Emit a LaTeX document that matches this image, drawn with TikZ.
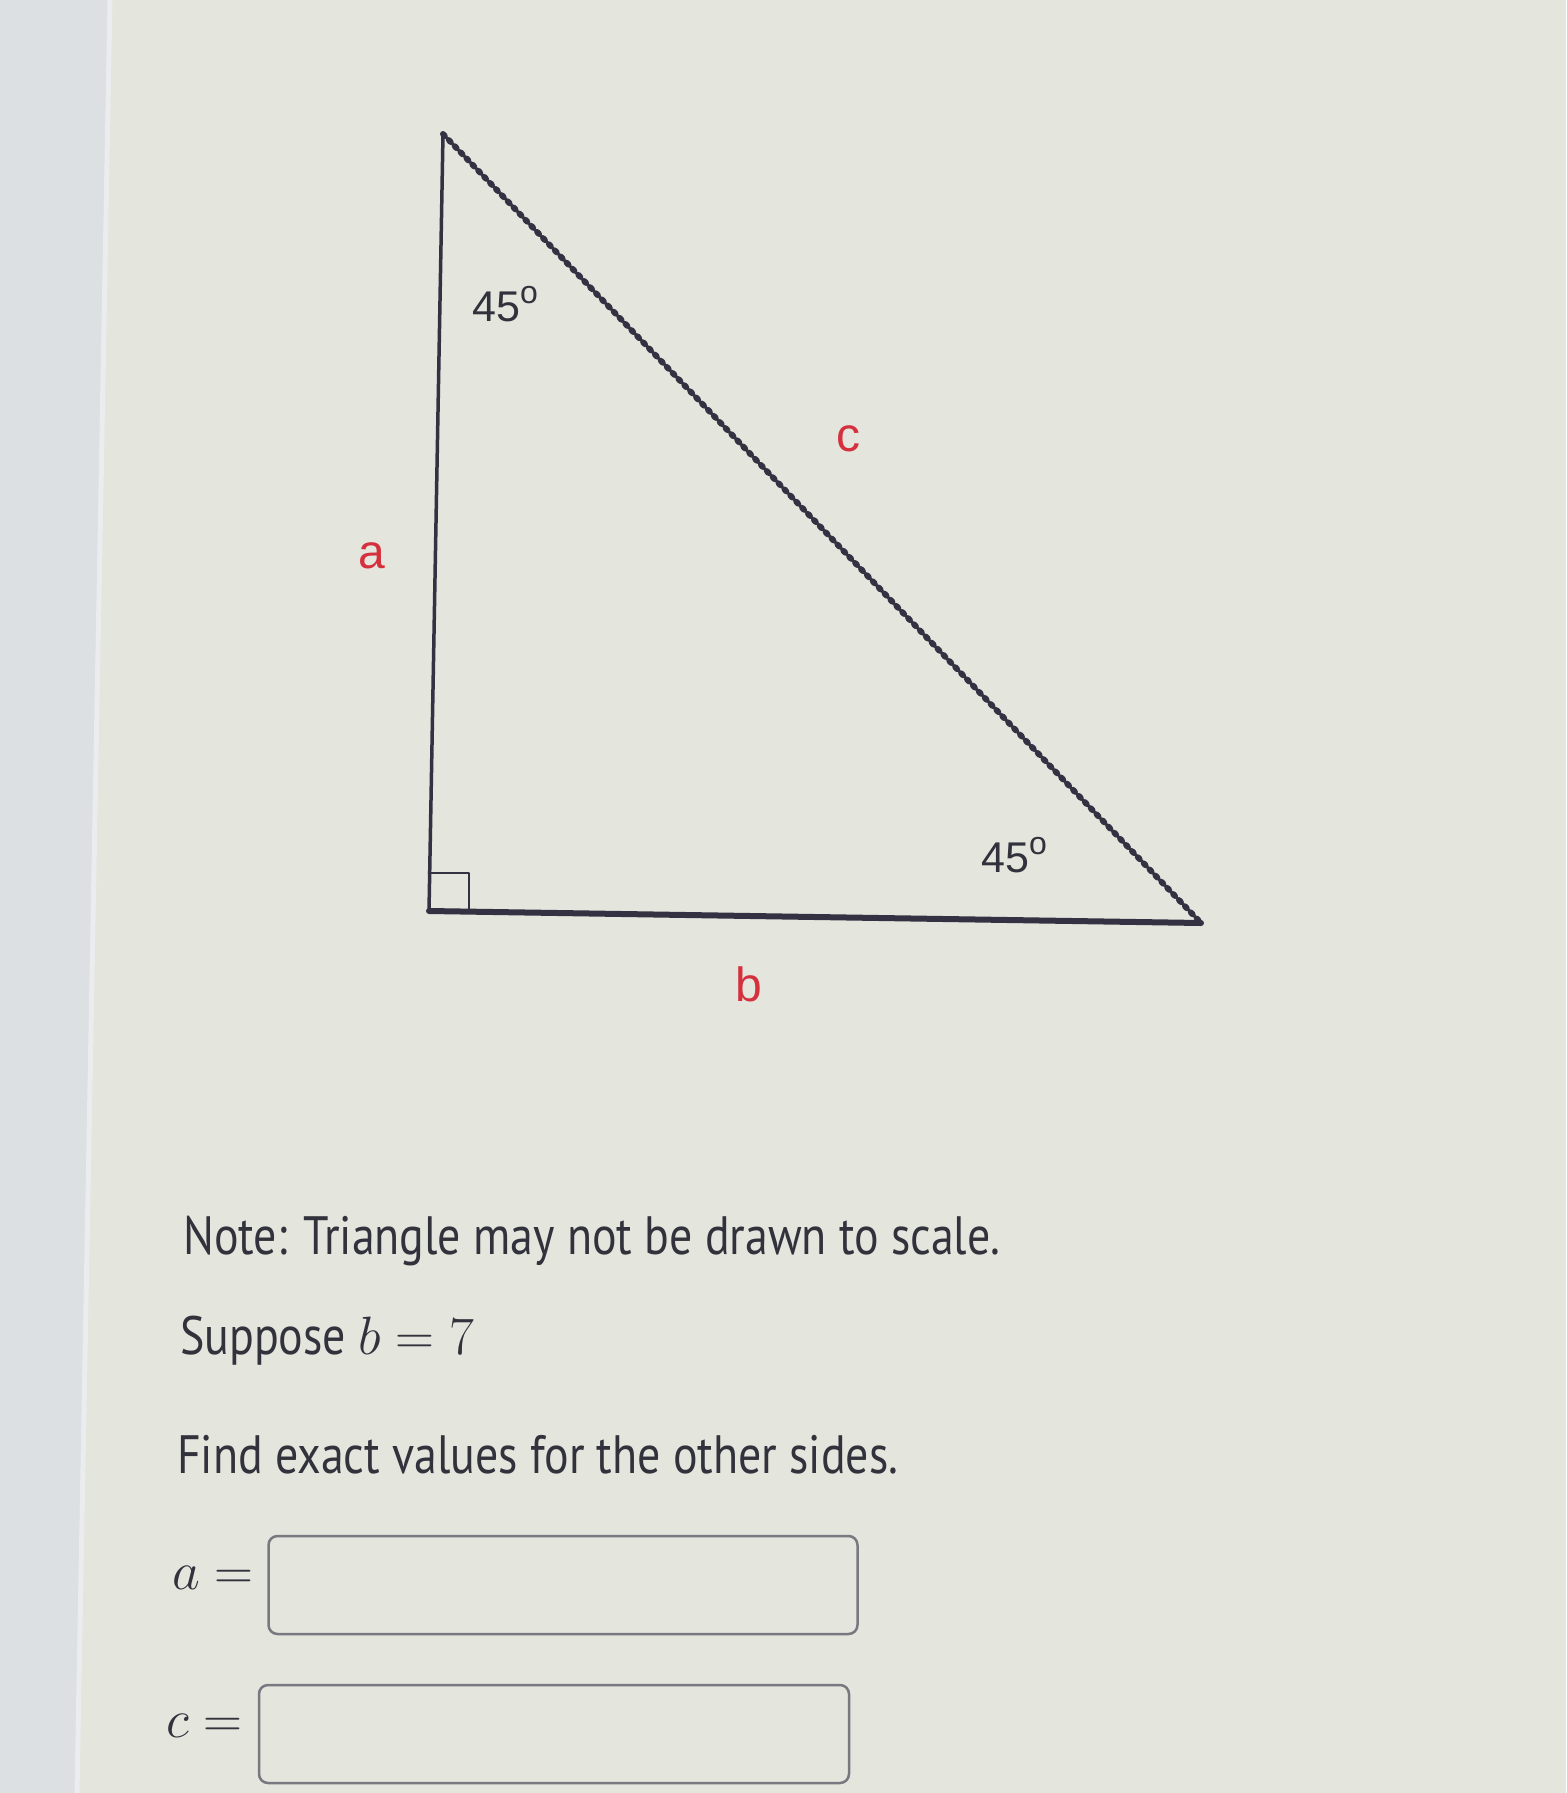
\documentclass[tikz,border=0pt]{standalone}
\usepackage{fix-cm}
\usepackage{fontspec}
\usetikzlibrary{calc}
\setmainfont[FakeStretch=0.85]{PT Sans}
\newfontfamily\labelfont{Liberation Sans}
\definecolor{screen}{RGB}{228,229,221}
\definecolor{margin}{RGB}{220,224,226}
\definecolor{linecol}{RGB}{52,50,66}
\definecolor{textcol}{RGB}{50,50,60}
\definecolor{labelred}{RGB}{212,48,62}
\definecolor{boxcol}{RGB}{120,120,128}
\newcommand{\degmark}{\raisebox{0.42em}{\fontsize{32}{32}\selectfont o}}
\begin{document}
\begin{tikzpicture}[x=1pt,y=-1pt]
  \tikzstyle{side}=[draw=linecol,line cap=round,line join=round]
  \tikzstyle{sidelabel}=[text=labelred,font=\labelfont\fontsize{48}{48}\selectfont]
  \tikzstyle{anglelabel}=[text=textcol,font=\labelfont\fontsize{43}{43}\selectfont]
  \tikzstyle{prose}=[text=textcol,anchor=west,inner sep=0pt,font=\fontsize{54}{54}\selectfont]
  \tikzstyle{answerbox}=[draw=boxcol,line width=2.5,rounded corners=9,minimum height=98,inner sep=0pt]
  \useasboundingbox (0,0) rectangle (1566,1793);
  % screen
  \fill[screen] (0,0) rectangle (1566,1793);
  \fill[margin] (0,0) -- (110,0) -- (77,1793) -- (0,1793) -- cycle;
  \draw[white!40!margin,line width=5] (110,0) -- (77,1793);
  % triangle
  \coordinate (top)   at (443,134);
  \coordinate (right) at (429,911);
  \coordinate (far)   at (1201,923);
  \draw[side,line width=3.5] (top) -- (right);
  \draw[side,line width=6] (right) -- (far);
  \draw[side,line width=3] (top) -- (far);
  \draw[linecol,line width=6,dash pattern=on 2.5 off 6,line cap=round] (top) -- (far);
  \draw[side,line width=2.8] ($(right)+(0,-38)$) -- ++(40,0) -- ++(0,38);
  \node[anglelabel] (topangle) at (505,304) {45\degmark};
  \node[anglelabel] (farangle) at (1014,855) {45\degmark};
  \node[sidelabel] (sidea) at (372,556) {a};
  \node[sidelabel] (sideb) at (749,984) {b};
  \node[sidelabel] (sidec) at (848,439) {c};
  % question
  \node[prose] (note) at (183,1241) {Note: Triangle may not be drawn to scale.};
  \node[prose] (suppose) at (180,1341) {Suppose $b=7$};
  \node[prose] (find) at (177,1455) {Find exact values for the other sides.};
  \node[prose] (aeq) at (172,1578) {$a=$};
  \node[prose] (ceq) at (166,1726) {$c=$};
  \node[answerbox,minimum width=589] (abox) at (563,1585) {};
  \node[answerbox,minimum width=590] (cbox) at (554,1734) {};
\end{tikzpicture}
\end{document}
